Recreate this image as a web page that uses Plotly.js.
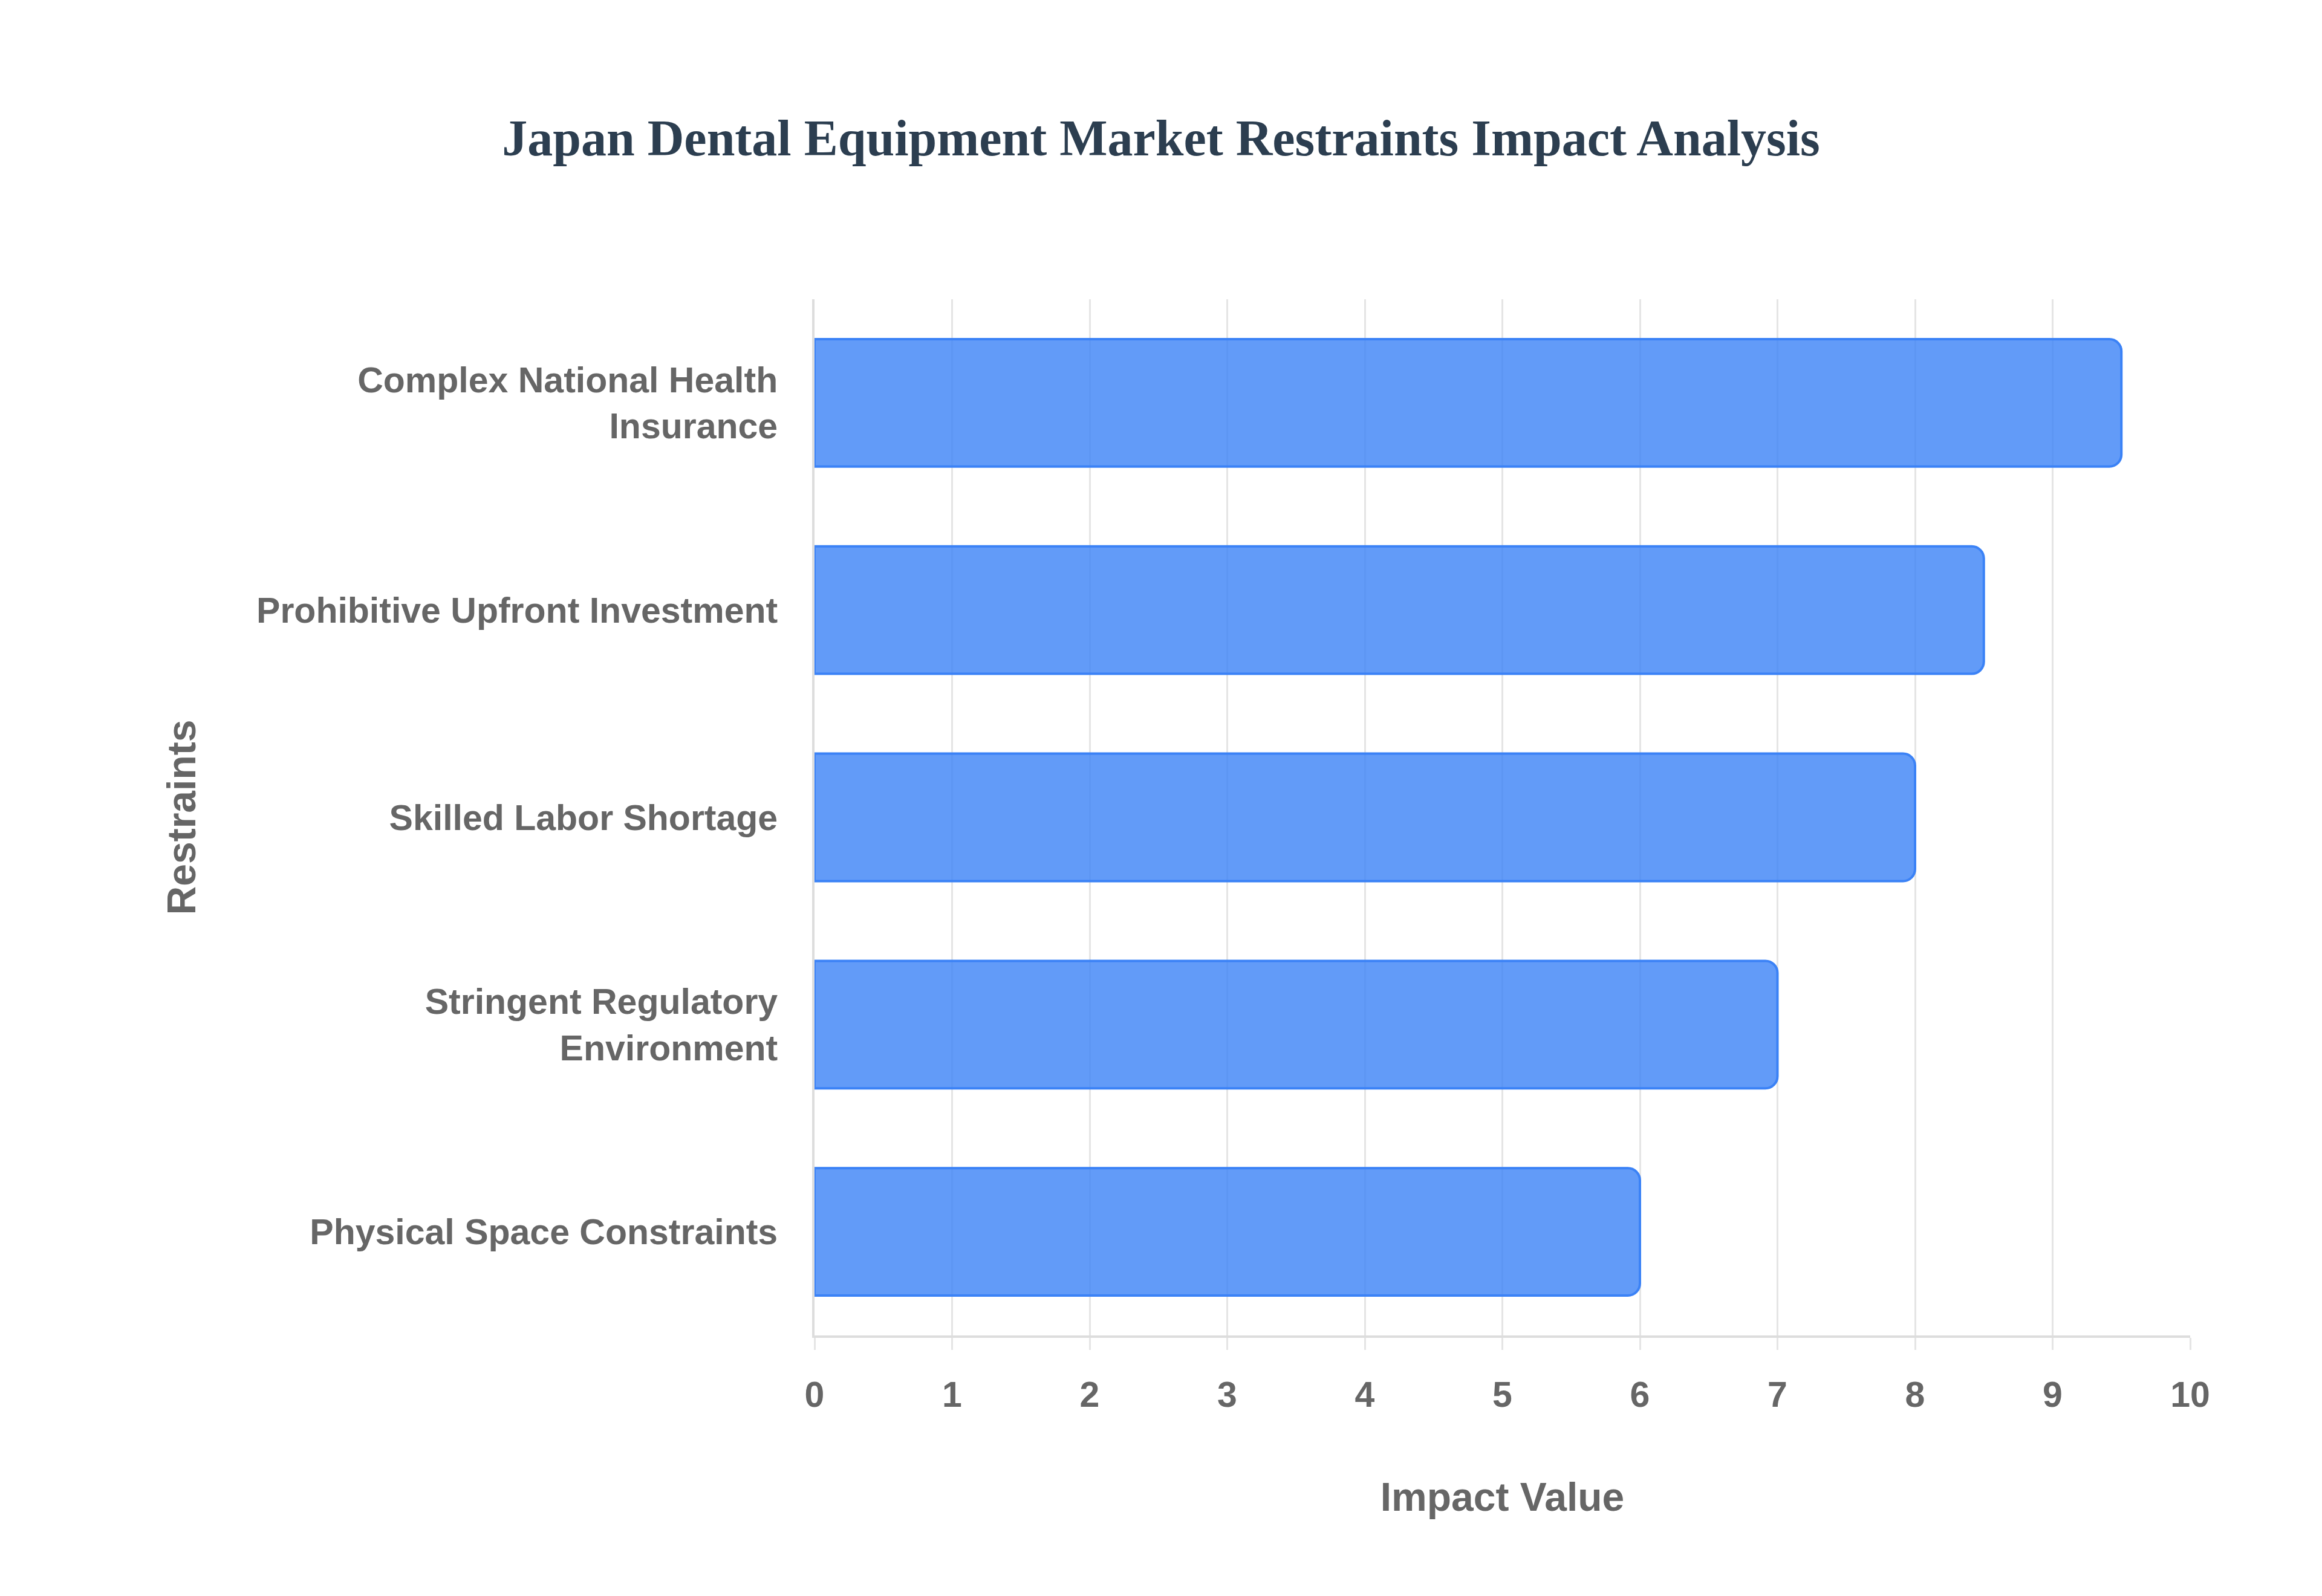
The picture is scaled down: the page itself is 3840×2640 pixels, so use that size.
<!DOCTYPE html>
<html>
<head>
<meta charset="utf-8">
<script src="https://cdn.plot.ly/plotly-3.0.1.min.js"></script>
<style>
  html, body { margin: 0; padding: 0; background: #fff; }
  #chart { width: 3840px; height: 2640px; }
</style>
</head>
<body>
<div id="chart"></div>
<script>
const restraints = [
    'Complex National Health<br>Insurance',
    'Prohibitive Upfront Investment',
    'Skilled Labor Shortage',
    'Stringent Regulatory<br>Environment',
    'Physical Space Constraints'
];
const impactValues = [9.5, 8.5, 8, 7, 6];
const xTicks = [0, 1, 2, 3, 4, 5, 6, 7, 8, 9, 10];

document.addEventListener('DOMContentLoaded', function() {
    drawChart();
});

function drawChart() {
    const data = [{
        type: 'bar',
        orientation: 'h',
        x: impactValues,
        y: restraints,
        marker: {
            color: 'rgba(59, 130, 246, 0.8)',
            line: { color: '#3b82f6', width: 4 }
        },
        hoverinfo: 'x+y'
    }];

    const labelFont = { family: 'Liberation Sans, Arial, sans-serif', size: 59, color: '#666666', weight: 'bold' };
    const axisTitleFont = { family: 'Liberation Sans, Arial, sans-serif', size: 66, color: '#666666', weight: 'bold' };

    const layout = {
        width: 3840,
        height: 2640,
        paper_bgcolor: '#ffffff',
        plot_bgcolor: '#ffffff',
        margin: { l: 1347, r: 218, t: 495, b: 431 },
        bargap: 0.385,
        barcornerradius: 20,
        showlegend: false,
        title: {
            text: 'Japan Dental Equipment Market Restraints Impact Analysis',
            font: { family: 'Liberation Serif, Times New Roman, serif', size: 84, color: '#2c3e50', weight: 'bold' },
            x: 0.5,
            xanchor: 'center',
            y: 1 - 228 / 2640,
            yanchor: 'middle'
        },
        xaxis: {
            range: [0, 10],
            tickvals: xTicks,
            ticks: 'outside',
            ticklen: 20,
            tickcolor: '#e5e5e5',
            tickwidth: 3,
            ticklabelstandoff: 23,
            tickfont: labelFont,
            showgrid: true,
            gridcolor: '#e5e5e5',
            gridwidth: 3,
            zeroline: false,
            showline: true,
            linecolor: '#dddddd',
            linewidth: 4,
            automargin: false,
            title: {
                text: 'Impact Value',
                font: axisTitleFont,
                standoff: 115
            }
        },
        yaxis: {
            autorange: 'reversed',
            ticks: '',
            ticklabelstandoff: 45,
            tickfont: labelFont,
            showgrid: false,
            zeroline: false,
            showline: true,
            linecolor: '#dddddd',
            linewidth: 4,
            automargin: false,
            title: {
                text: 'Restraints',
                font: axisTitleFont,
                standoff: 80
            }
        }
    };

    Plotly.newPlot('chart', data, layout, { displayModeBar: false, staticPlot: true });
}
</script>
</body>
</html>
